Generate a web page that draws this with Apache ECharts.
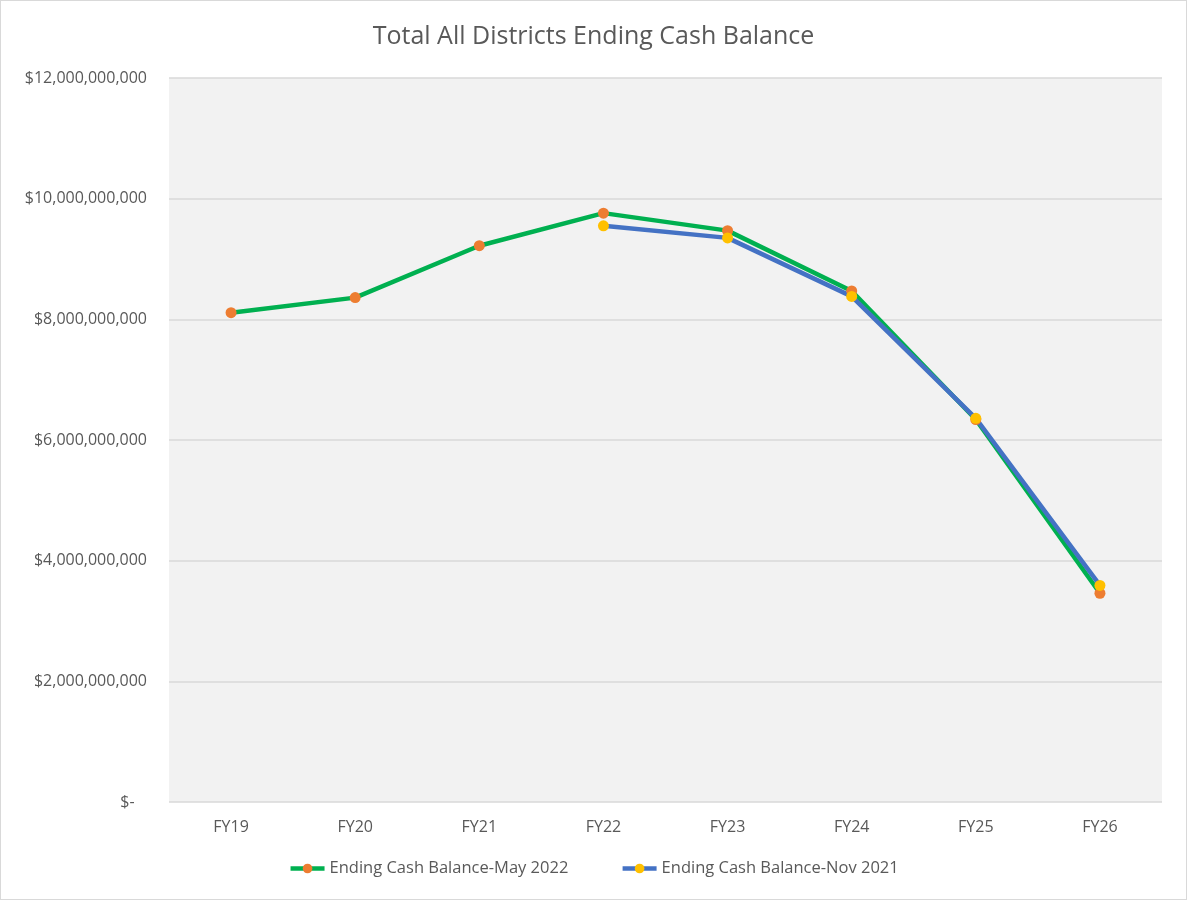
<!DOCTYPE html>
<html>
<head>
<meta charset="utf-8">
<script src="https://cdn.jsdelivr.net/npm/echarts@6/dist/echarts.min.js"></script>
<style>
html,body{margin:0;padding:0;background:#fff;}
#wrap{width:1187px;height:900px;box-sizing:border-box;border:1px solid #d9d9d9;}
#chart{width:100%;height:100%;}
</style>
</head>
<body>
<div id="wrap"><div id="chart"></div></div>
<script>
const categories = ['FY19','FY20','FY21','FY22','FY23','FY24','FY25','FY26'];
const seriesNames = ['Ending Cash Balance-May 2022','Ending Cash Balance-Nov 2021'];
const may2022 = [8110000000, 8360000000, 9220000000, 9760000000, 9470000000, 8470000000, 6340000000, 3460000000];
const nov2021 = [null, null, null, 9550000000, 9350000000, 8380000000, 6360000000, 3590000000];
const titleText = 'Total All Districts Ending Cash Balance';

const chart = echarts.init(document.getElementById('chart'));
const fontFam = 'Open Sans, Noto Sans, sans-serif';
function fmt(v){
  if (v === 0) return '$-   ';
  return '$' + v.toLocaleString('en-US');
}
chart.setOption({
  animation:false,
  title:{text:titleText,left:'center',top:18,textStyle:{fontFamily:fontFam,fontSize:25,fontWeight:'normal',color:'#595959'}},
  grid:{left:168,right:24,top:77,bottom:97,show:true,backgroundColor:'#f2f2f2',borderWidth:0},
  legend:{bottom:17,left:'center',itemGap:52,itemWidth:34,itemHeight:12,
    lineStyle:{width:4.5},
    textStyle:{fontFamily:fontFam,fontSize:16.5,color:'#595959'},
    data:seriesNames},
  xAxis:{type:'category',data:categories,boundaryGap:true,
    axisLine:{show:false},axisTick:{show:false},
    axisLabel:{fontFamily:fontFam,fontSize:16,color:'#595959',margin:17}},
  yAxis:{type:'value',min:0,max:12000000000,interval:2000000000,
    axisLine:{show:false},axisTick:{show:false},
    splitLine:{lineStyle:{color:'#d9d9d9',width:1.5}},
    axisLabel:{fontFamily:fontFam,fontSize:16,color:'#595959',margin:22,formatter:fmt}},
  series:[
    {name:seriesNames[0],type:'line',data:may2022,symbol:'circle',symbolSize:11,
     lineStyle:{color:'#00B050',width:4.5},itemStyle:{color:'#ED7D31'},color:'#00B050'},
    {name:seriesNames[1],type:'line',data:nov2021,symbol:'circle',symbolSize:11,
     lineStyle:{color:'#4472C4',width:4.5},itemStyle:{color:'#FFC000'},color:'#4472C4'}
  ]
});
</script>
</body>
</html>
